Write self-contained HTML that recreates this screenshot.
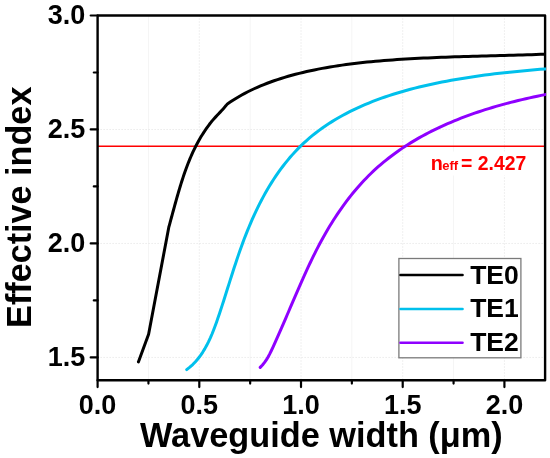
<!DOCTYPE html>
<html><head><meta charset="utf-8"><style>
html,body{margin:0;padding:0;background:#fff;}
svg{display:block;}
</style></head><body>
<svg width="550" height="458" viewBox="0 0 550 458" font-family="'Liberation Sans', Arial, sans-serif" font-weight="bold">
<rect width="550" height="458" fill="#fff"/>
<g><line x1="148.45" y1="15.50" x2="148.45" y2="380.20" stroke="#f5f5f5" stroke-width="1"/><line x1="250.16" y1="15.50" x2="250.16" y2="380.20" stroke="#f5f5f5" stroke-width="1"/><line x1="351.86" y1="15.50" x2="351.86" y2="380.20" stroke="#f5f5f5" stroke-width="1"/><line x1="453.57" y1="15.50" x2="453.57" y2="380.20" stroke="#f5f5f5" stroke-width="1"/><line x1="199.30" y1="15.50" x2="199.30" y2="380.20" stroke="#e0e0e0" stroke-width="1" stroke-dasharray="1 2"/><line x1="301.01" y1="15.50" x2="301.01" y2="380.20" stroke="#e0e0e0" stroke-width="1" stroke-dasharray="1 2"/><line x1="402.71" y1="15.50" x2="402.71" y2="380.20" stroke="#e0e0e0" stroke-width="1" stroke-dasharray="1 2"/><line x1="504.42" y1="15.50" x2="504.42" y2="380.20" stroke="#e0e0e0" stroke-width="1" stroke-dasharray="1 2"/><line x1="97.60" y1="129.47" x2="545.10" y2="129.47" stroke="#e0e0e0" stroke-width="1" stroke-dasharray="1 2"/><line x1="97.60" y1="243.44" x2="545.10" y2="243.44" stroke="#e0e0e0" stroke-width="1" stroke-dasharray="1 2"/><line x1="97.60" y1="357.41" x2="545.10" y2="357.41" stroke="#e0e0e0" stroke-width="1" stroke-dasharray="1 2"/></g>
<line x1="97.6" y1="146.3" x2="545.1" y2="146.3" stroke="#ff0000" stroke-width="1.6"/>

<g stroke="#000" stroke-width="2.2" stroke-linecap="round"><line x1="97.60" y1="380.20" x2="97.60" y2="387.10"/><line x1="148.45" y1="380.20" x2="148.45" y2="383.60"/><line x1="199.30" y1="380.20" x2="199.30" y2="387.10"/><line x1="250.16" y1="380.20" x2="250.16" y2="383.60"/><line x1="301.01" y1="380.20" x2="301.01" y2="387.10"/><line x1="351.86" y1="380.20" x2="351.86" y2="383.60"/><line x1="402.71" y1="380.20" x2="402.71" y2="387.10"/><line x1="453.57" y1="380.20" x2="453.57" y2="383.60"/><line x1="504.42" y1="380.20" x2="504.42" y2="387.10"/><line x1="97.60" y1="15.50" x2="90.70" y2="15.50"/><line x1="97.60" y1="72.48" x2="93.80" y2="72.48"/><line x1="97.60" y1="129.47" x2="90.70" y2="129.47"/><line x1="97.60" y1="186.45" x2="93.80" y2="186.45"/><line x1="97.60" y1="243.44" x2="90.70" y2="243.44"/><line x1="97.60" y1="300.42" x2="93.80" y2="300.42"/><line x1="97.60" y1="357.41" x2="90.70" y2="357.41"/></g>
<rect x="97.6" y="15.5" width="447.50" height="364.70" fill="none" stroke="#000" stroke-width="2.4" stroke-linejoin="round"/>
<clipPath id="cp"><rect x="0" y="0" width="546" height="458"/></clipPath>
<g clip-path="url(#cp)" fill="none" stroke-width="3.0" stroke-linejoin="round" stroke-linecap="round">
<path d="M138.40 361.90 L148.60 334.30L168.80 227.20L169.47 224.78L170.13 222.36L170.79 219.94L171.44 217.51L172.10 215.09L172.76 212.66L173.42 210.24L174.08 207.81L174.74 205.40L175.41 202.98L176.08 200.57L176.76 198.17L177.45 195.77L178.14 193.38L178.84 190.99L179.55 188.62L180.26 186.25L180.99 183.90L181.73 181.55L182.48 179.22L183.24 176.90L184.02 174.60L184.81 172.30L185.62 170.03L186.45 167.77L187.29 165.53L188.14 163.30L189.02 161.10L189.92 158.91L190.84 156.74L191.77 154.60L192.73 152.48L193.72 150.37L194.72 148.30L195.75 146.25L196.81 144.22L197.89 142.21L198.99 140.24L200.12 138.28L201.28 136.35L202.45 134.45L203.65 132.57L204.88 130.71L206.12 128.87L207.40 127.06L208.70 125.28L210.03 123.53L211.40 121.81L212.81 120.14L214.25 118.50L215.72 116.88L217.20 115.28L218.69 113.69L220.18 112.10L221.67 110.50L223.14 108.89L224.59 107.26L226.01 105.60L227.40 103.90L227.40 103.90L230.17 102.01L232.98 100.18L235.85 98.40L238.77 96.67L241.74 94.99L244.76 93.36L247.83 91.78L250.95 90.24L254.11 88.76L257.32 87.32L260.58 85.92L263.88 84.57L267.22 83.27L270.61 82.00L274.04 80.78L277.51 79.60L281.03 78.46L284.58 77.37L288.17 76.31L291.80 75.29L295.47 74.30L299.17 73.36L302.91 72.44L306.68 71.57L310.49 70.73L314.34 69.92L318.21 69.14L322.12 68.40L326.06 67.69L330.03 67.01L334.03 66.36L338.05 65.73L342.11 65.14L346.19 64.57L350.30 64.03L354.43 63.51L358.59 63.02L362.78 62.55L366.98 62.11L371.21 61.69L375.46 61.29L379.73 60.91L384.02 60.55L388.34 60.21L392.66 59.89L397.01 59.58L401.37 59.29L405.75 59.02L410.15 58.77L414.56 58.52L418.98 58.30L423.41 58.08L427.86 57.88L432.32 57.69L436.79 57.50L441.27 57.33L445.75 57.17L450.25 57.01L454.75 56.87L459.26 56.72L463.78 56.59L468.30 56.46L472.82 56.33L477.35 56.21L481.88 56.08L486.41 55.97L490.94 55.85L495.47 55.73L500.00 55.61L504.53 55.49L509.06 55.36L513.58 55.24L518.10 55.11L522.62 54.97L527.13 54.83L531.63 54.68L536.13 54.53L540.62 54.37L545.10 54.20" stroke="#000"/>
<path d="M186.72 369.62L189.83 367.19L192.74 364.56L195.46 361.75L198.01 358.76L200.40 355.61L202.64 352.31L204.75 348.88L206.72 345.31L208.59 341.64L210.35 337.86L212.02 333.99L213.61 330.04L215.13 326.03L216.61 321.96L218.03 317.85L219.43 313.71L220.81 309.55L222.17 305.37L223.52 301.19L224.86 296.99L226.19 292.78L227.52 288.57L228.85 284.36L230.19 280.16L231.52 275.96L232.87 271.76L234.22 267.58L235.59 263.41L236.98 259.26L238.38 255.12L239.81 251.01L241.26 246.93L242.74 242.87L244.26 238.84L245.80 234.85L247.38 230.89L248.99 226.96L250.63 223.07L252.32 219.21L254.04 215.39L255.80 211.61L257.59 207.87L259.43 204.17L261.32 200.51L263.24 196.90L265.21 193.33L267.22 189.81L269.29 186.33L271.39 182.90L273.55 179.52L275.76 176.19L278.02 172.91L280.33 169.68L282.70 166.51L285.12 163.39L287.59 160.33L290.12 157.32L292.71 154.37L295.36 151.48L298.07 148.65L300.84 145.89L303.68 143.18L306.57 140.54L309.53 137.96L312.56 135.45L315.64 132.99L318.79 130.60L322.00 128.27L325.27 126.00L328.59 123.79L331.98 121.63L335.42 119.53L338.91 117.49L342.46 115.50L346.07 113.57L349.73 111.69L353.44 109.86L357.20 108.09L361.01 106.36L364.88 104.68L368.79 103.06L372.75 101.48L376.76 99.95L380.81 98.46L384.91 97.02L389.05 95.63L393.24 94.28L397.47 92.97L401.75 91.70L406.06 90.48L410.41 89.29L414.81 88.15L419.24 87.04L423.71 85.97L428.21 84.94L432.75 83.94L437.33 82.98L441.94 82.05L446.59 81.16L451.26 80.30L455.97 79.47L460.71 78.67L465.48 77.90L470.27 77.15L475.10 76.44L479.95 75.75L484.83 75.09L489.73 74.46L494.66 73.85L499.62 73.26L504.59 72.70L509.59 72.16L514.60 71.64L519.64 71.14L524.70 70.65L529.77 70.19L534.87 69.74L539.98 69.32L545.10 68.90" stroke="#00c0ec"/>
<path d="M260.21 367.41L262.50 365.02L264.59 362.42L266.49 359.63L268.25 356.70L269.88 353.65L271.42 350.50L272.91 347.30L274.36 344.07L275.81 340.83L277.25 337.59L278.69 334.34L280.13 331.09L281.56 327.83L282.98 324.57L284.40 321.30L285.82 318.03L287.23 314.76L288.64 311.48L290.05 308.20L291.45 304.92L292.86 301.64L294.27 298.37L295.68 295.09L297.10 291.82L298.52 288.55L299.94 285.29L301.38 282.04L302.82 278.80L304.27 275.56L305.73 272.34L307.21 269.13L308.70 265.93L310.20 262.75L311.72 259.58L313.26 256.43L314.81 253.30L316.38 250.18L317.98 247.09L319.59 244.02L321.23 240.97L322.89 237.94L324.58 234.94L326.28 231.96L328.01 229.01L329.77 226.08L331.55 223.17L333.36 220.29L335.19 217.44L337.06 214.61L338.94 211.82L340.86 209.05L342.80 206.30L344.78 203.59L346.78 200.91L348.81 198.25L350.88 195.63L352.97 193.04L355.10 190.48L357.26 187.95L359.45 185.46L361.67 182.99L363.93 180.57L366.22 178.17L368.55 175.81L370.91 173.49L373.31 171.20L375.74 168.95L378.22 166.73L380.72 164.55L383.26 162.41L385.84 160.30L388.46 158.23L391.11 156.19L393.79 154.18L396.51 152.22L399.26 150.28L402.04 148.38L404.86 146.51L407.71 144.68L410.60 142.87L413.52 141.10L416.46 139.37L419.44 137.66L422.46 135.99L425.50 134.34L428.57 132.73L431.68 131.15L434.81 129.59L437.98 128.07L441.17 126.58L444.39 125.11L447.64 123.68L450.92 122.27L454.23 120.89L457.56 119.54L460.93 118.22L464.32 116.92L467.73 115.65L471.18 114.41L474.65 113.19L478.14 112.00L481.66 110.83L485.21 109.69L488.78 108.58L492.37 107.49L495.99 106.42L499.64 105.38L503.30 104.36L506.99 103.36L510.71 102.39L514.44 101.43L518.20 100.51L521.98 99.60L525.78 98.71L529.60 97.85L533.45 97.00L537.31 96.18L541.19 95.38L545.10 94.60" stroke="#8f00ff"/>
</g>
<g font-size="27" fill="#000"><text x="97.60" y="414.2" text-anchor="middle">0.0</text><text x="199.30" y="414.2" text-anchor="middle">0.5</text><text x="301.01" y="414.2" text-anchor="middle">1.0</text><text x="402.71" y="414.2" text-anchor="middle">1.5</text><text x="504.42" y="414.2" text-anchor="middle">2.0</text><text x="85.4" y="24.00" text-anchor="end">3.0</text><text x="85.4" y="137.97" text-anchor="end">2.5</text><text x="85.4" y="251.94" text-anchor="end">2.0</text><text x="85.4" y="365.91" text-anchor="end">1.5</text></g>
<text x="140" y="446.8" font-size="34.3" fill="#000">Waveguide width (μm)</text>
<text transform="translate(30.7,327.9) rotate(-90)" font-size="34.2" fill="#000">Effective index</text>
<rect x="398.9" y="258.5" width="122.0" height="99.3" fill="#fff" stroke="#7a7a7a" stroke-width="1.3"/>
<g stroke-width="2.6" stroke-linecap="round">
<line x1="400.5" y1="275" x2="462.5" y2="275" stroke="#000"/>
<line x1="400.5" y1="309" x2="462.5" y2="309" stroke="#00c0ec"/>
<line x1="400.5" y1="342.8" x2="462.5" y2="342.8" stroke="#8f00ff"/>
</g>
<g font-size="26.5" fill="#000">
<text x="470.2" y="284.2">TE0</text>
<text x="470.2" y="317.4">TE1</text>
<text x="470.2" y="350.8">TE2</text>
</g>
<rect x="429" y="151.5" width="99" height="24" fill="#fff"/>
<g fill="#ff0000">
<text x="430.7" y="170.2" font-size="19.8">n</text>
<text x="442.3" y="170.4" font-size="13">eff</text>
<text x="461" y="170.3" font-size="19.4">= 2.427</text>
</g>
</svg>
</body></html>
